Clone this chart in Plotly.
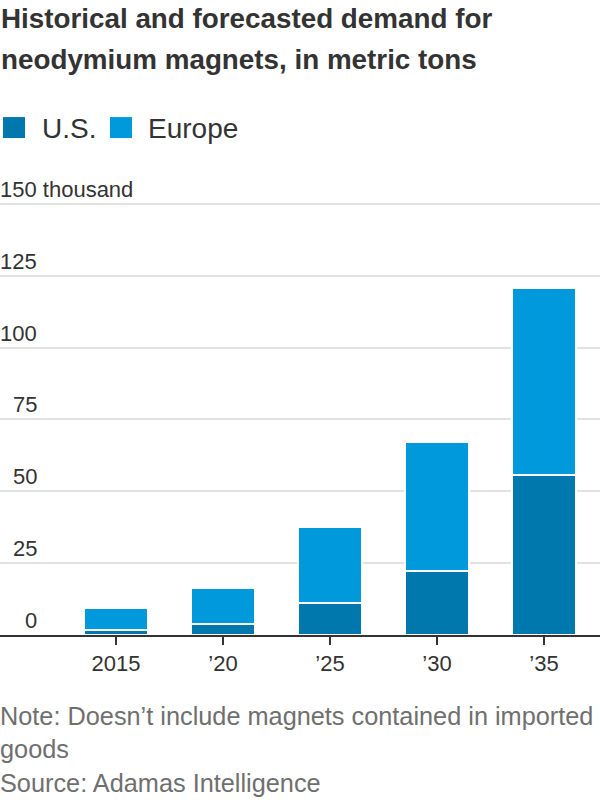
import plotly.graph_objects as go

# ---- data ----
years = ["2015", "\u201920", "\u201925", "\u201930", "\u201935"]
us = [1.8, 4.0, 11.0, 22.1, 55.5]
europe = [7.7, 12.4, 26.4, 45.1, 65.2]
y_ticks = [0, 25, 50, 75, 100, 125, 150]
y_tick_labels = ["0", "25", "50", "75", "100", "125", "150 thousand"]

title_lines = ["Historical and forecasted demand for",
               "neodymium magnets, in metric tons"]
note_lines = ["Note: Doesn\u2019t include magnets contained in imported",
              "goods",
              "Source: Adamas Intelligence"]

US_COLOR = "#0077AD"
EU_COLOR = "#0099DB"
TXT = "#333333"
FONT = "Liberation Sans, Arial, sans-serif"

W, H = 600, 800
T, B = 198, 164.7
plot_h = H - T - B


def py(ypx):
    """pixel y (from top) -> paper y"""
    return (H - B - ypx) / plot_h


def px(xpx):
    return xpx / W


fig = go.Figure()
fig.add_bar(x=years, y=us, name="U.S.", marker=dict(color=US_COLOR, line=dict(color="white", width=2)),
            width=0.6, showlegend=False)
fig.add_bar(x=years, y=europe, name="Europe", marker=dict(color=EU_COLOR, line=dict(color="white", width=2)),
            width=0.6, showlegend=False)

annotations = []
# title
for i, line in enumerate(title_lines):
    annotations.append(dict(text=f"<b>{line}</b>", x=0, y=py(18 + 41 * i), xref="paper", yref="paper",
                            xanchor="left", yanchor="middle", showarrow=False, xshift=-1,
                            font=dict(family=FONT, size=27.8, color=TXT)))
# legend
leg_items = [("U.S.", US_COLOR, 3, 40), ("Europe", EU_COLOR, 110, 146)]
shapes = []
for name, col, sx, tx in leg_items:
    shapes.append(dict(type="rect", xref="paper", yref="paper", x0=px(sx), x1=px(sx + 22),
                       y0=py(138), y1=py(117), fillcolor=col, line=dict(width=0)))
    annotations.append(dict(text=name, x=px(tx), y=py(128), xref="paper", yref="paper",
                            xanchor="left", yanchor="middle", showarrow=False,
                            font=dict(family=FONT, size=28, color=TXT)))
# y tick labels
for v, lab in zip(y_ticks, y_tick_labels):
    if v == y_ticks[-1]:
        annotations.append(dict(text=lab, x=0, y=v, xref="paper", yref="y", xanchor="left",
                                yanchor="bottom", showarrow=False, xshift=-2,
                                font=dict(family=FONT, size=22, color=TXT)))
    else:
        annotations.append(dict(text=lab, x=px(37), y=v, xref="paper", yref="y", xanchor="right",
                                yanchor="bottom", showarrow=False, xshift=2,
                                font=dict(family=FONT, size=22, color=TXT)))
# notes
for i, line in enumerate(note_lines):
    annotations.append(dict(text=line, x=0, y=py(716 + 33.5 * i), xref="paper", yref="paper",
                            xanchor="left", yanchor="middle", showarrow=False, xshift=-2,
                            font=dict(family=FONT, size=25.3, color="#6f6f6f")))

fig.update_layout(
    width=W, height=H, barmode="stack",
    margin=dict(l=0, r=0, t=T, b=B),
    paper_bgcolor="white", plot_bgcolor="white",
    font=dict(family=FONT, color=TXT),
    annotations=annotations, shapes=shapes,
    xaxis=dict(range=[-1.084, 4.523], showline=True, linecolor=TXT, linewidth=2,
               ticks="outside", ticklen=8, tickwidth=2, tickcolor=TXT,
               tickfont=dict(family=FONT, size=22, color=TXT), showgrid=False, fixedrange=True),
    yaxis=dict(range=[0, 152], tickvals=y_ticks, showticklabels=False, showgrid=True,
               gridcolor="#e2e2e2", gridwidth=1.5, zeroline=False, fixedrange=True),
)

fig.write_html("out.html", config={"displayModeBar": False},
               post_script="document.body.style.margin='0';document.body.style.padding='0';")
